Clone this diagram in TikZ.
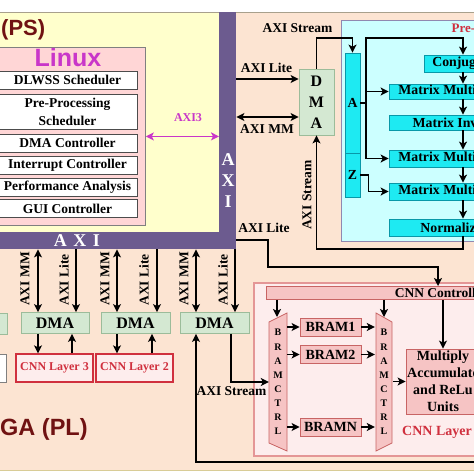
\documentclass[tikz,border=0pt]{standalone}
\usepackage{fontspec}
\setmainfont{Liberation Serif}
\setsansfont{Liberation Sans}
\usetikzlibrary{arrows.meta,calc}
\newcommand\myfs[2]{\fontsize{#1}{#2}\selectfont}
\definecolor{peach}{HTML}{FCE4D2}
\definecolor{psyellow}{HTML}{FFFFCC}
\definecolor{axipurple}{HTML}{6C5B8F}
\definecolor{linuxpink}{HTML}{FFD6D6}
\definecolor{ppcyan}{HTML}{CCFFFF}
\definecolor{ppborder}{HTML}{9088B0}
\definecolor{boxcyan}{HTML}{1EEAF2}
\definecolor{cyanborder}{HTML}{0898A8}
\definecolor{dmagreen}{HTML}{D4E8D2}
\definecolor{greenborder}{HTML}{9CBC9A}
\definecolor{cnnbg}{HTML}{FDEDED}
\definecolor{cnnframe}{HTML}{E49696}
\definecolor{cnnbox}{HTML}{F6C4C4}
\definecolor{cnnborder}{HTML}{C86464}
\definecolor{mag}{HTML}{C936C9}
\definecolor{darkred}{HTML}{701212}
\definecolor{cnnred}{HTML}{D0303E}
\definecolor{topline}{HTML}{A8A08C}
\definecolor{botline}{HTML}{D8CC96}
\begin{document}
\begin{tikzpicture}[x=1pt,y=-1pt,
  lbl/.style={font=\myfs{13.5}{16}\bfseries, inner sep=0},
  wbox/.style={draw=black!70, fill=white, line width=0.8pt, minimum width=139pt, minimum height=18pt, inner sep=0, font=\myfs{13.5}{18}\bfseries, align=center},
  cbox/.style={draw=cyanborder, fill=boxcyan, line width=0.7pt, inner sep=0, font=\myfs{13.8}{16}\bfseries},
  gbox/.style={draw=greenborder, fill=dmagreen, line width=0.8pt, inner sep=0},
  pbox/.style={draw=cnnborder, fill=cnnbox, line width=0.8pt, inner sep=0},
  lbox/.style={draw=cnnred, fill=cnnbg, line width=1.3pt, inner sep=0, text=cnnred, font=\myfs{12}{14}\bfseries},
  bctxt/.style={inner sep=0, minimum width=18pt, minimum height=138pt, font=\myfs{10}{14.1}\bfseries, align=center},
  ln/.style={line width=1.4pt},
  arr/.style={line width=1.4pt, -{Stealth[length=8pt,width=8pt,inset=2pt]}},
  darr/.style={line width=1.4pt, {Stealth[length=8pt,width=8pt,inset=2pt]}-{Stealth[length=8pt,width=8pt,inset=2pt]}},
  magarr/.style={line width=1.4pt, draw=mag, {Stealth[length=8pt,width=8pt,inset=2pt]}-{Stealth[length=8pt,width=8pt,inset=2pt]}}
]
\useasboundingbox (0,0) rectangle (474,474);
\fill[white] (0,0) rectangle (474,474);
% backgrounds
\draw[fill=peach, draw=botline, line width=1pt] (-3,12) rectangle (477,470);
\draw[topline, line width=0.8pt] (-3,12) -- (477,12);
\node[draw=topline, fill=psyellow, line width=0.8pt, anchor=north west, minimum width=221pt, minimum height=220pt, inner sep=0] (ps) at (-2,12) {};
\node[fill=axipurple, anchor=north west, minimum width=17pt, minimum height=237pt, inner sep=0] (axiv) at (219,12) {};
\node[fill=axipurple, anchor=north west, minimum width=238pt, minimum height=17pt, inner sep=0] (axih) at (-2,232) {};
\node[text=white, font=\myfs{18}{21}\bfseries, align=center, inner sep=0] (axivt) at (228,181) {A\\X\\I};
\node[text=white, font=\myfs{18}{20}\bfseries, inner sep=0] (axiht) at (77,241) {A\hspace{2pt} X\hspace{2pt} I};
\node[anchor=west, font=\sffamily\bfseries\myfs{22}{24}, text=darkred, inner sep=0] (pst) at (1,30) {(PS)};
% Linux
\node[draw=gray, fill=linuxpink, line width=0.8pt, anchor=north west, minimum width=147pt, minimum height=178pt, inner sep=0] (linux) at (-2,47) {};
\node[font=\sffamily\bfseries\myfs{25}{27}, text=mag, inner sep=0] (linuxt) at (68,58) {Linux};
\node[wbox] (dlwss) at (67.5,80) {DLWSS Scheduler};
\node[wbox, minimum height=35pt] (prep) at (67.5,111.5) {Pre-Processing\\Scheduler};
\node[wbox] (dmac) at (67.5,143) {DMA Controller};
\node[wbox] (intc) at (67.5,165) {Interrupt Controller};
\node[wbox] (perf) at (67.5,187) {Performance Analysis};
\node[wbox] (gui) at (67.5,208.5) {GUI Controller};
\draw[magarr] (linux.east) -- (axiv.west |- linux.east);
\node[font=\myfs{12}{14}\bfseries, text=mag, inner sep=0] (axi3) at (188,118) {AXI3};
% Pre-processing
\node[draw=ppborder, fill=ppcyan, line width=0.9pt, anchor=north west, minimum width=140pt, minimum height=221pt, inner sep=0] (pp) at (341,20) {};
\node[anchor=west, font=\myfs{13}{15}\bfseries, text=cnnred, inner sep=0] (ppt) at (451.5,29) {Pre-Processing};
\node[lbl] (lstream) at (297.5,28) {AXI Stream};
\node[gbox, minimum width=35pt, minimum height=66pt, font=\myfs{16}{21}\bfseries, align=center] (dmaT) at (316.5,102) {D\\M\\A};
\coordinate (yLite) at (0,79);
\coordinate (yMM) at (0,117);
\draw[arr] (axiv.east |- yLite) -- (dmaT.west |- yLite);
\draw[darr] (axiv.east |- yMM) -- (dmaT.west |- yMM);
\node[lbl] (llite1) at (266.5,68) {AXI Lite};
\node[lbl] (lmm1) at (267,129) {AXI MM};
\node[cbox, minimum width=15pt, minimum height=100pt] (blockA) at (352.5,103) {A};
\node[cbox, minimum width=15pt, minimum height=44pt] (blockZ) at (352.5,175) {Z};
\node[cbox, minimum width=78pt, minimum height=17pt] (conj) at (463,63.5) {Conjugate};
\node[cbox, minimum width=148pt, minimum height=15pt] (mm1) at (463,91.5) {Matrix Multiplication};
\node[cbox, minimum width=148pt, minimum height=15pt] (minv) at (463,122.5) {Matrix Inversion};
\node[cbox, minimum width=148pt, minimum height=17pt] (mm3) at (463,158.5) {Matrix Multiplication};
\node[cbox, minimum width=148pt, minimum height=17pt] (mm4) at (463,191.5) {Matrix Multiplication};
\node[cbox, minimum width=148pt, minimum height=17pt] (norm) at (463,227.5) {Normalization};
\coordinate (yS) at (0,38);
\draw[arr] (dmaT.north) -- (dmaT.north |- yS) -- (blockA.north |- yS) -- (blockA.north);
\coordinate (jx) at (366,0);
\draw[ln] (blockA.east) -- (blockA.east -| jx);
\draw[arr] (jx |- mm3.west) -- (jx |- yS) -- (conj.north |- yS) -- (conj.north);
\draw[arr] (jx |- mm1.west) -- (mm1.west);
\draw[arr] (jx |- mm3.west) -- (mm3.west);
\draw[arr] (blockZ.east) -- ++(8,0) |- (mm4.west);
\draw[arr] (conj.south) -- (mm1.north);
\draw[arr] (mm1.south) -- (minv.north);
\draw[arr] (minv.south) -- (mm3.north);
\draw[arr] (mm3.south) -- (mm4.north);
\draw[arr] (mm4.south) -- (norm.north);
\coordinate (yB) at (0,249);
\draw[arr] (norm.south) -- (norm.south |- yB) -- (dmaT.south |- yB) -- (dmaT.south);
\node[lbl, rotate=90] (lstream2) at (307,195) {AXI Stream};
% CNN layer region
\node[draw=cnnframe, fill=cnnbg, line width=1.6pt, anchor=north west, minimum width=230pt, minimum height=173pt, inner sep=0] (cnn) at (253,282) {};
\node[pbox, anchor=north west, minimum width=350pt, minimum height=13pt, font=\myfs{13.5}{15}\bfseries] (ctrl) at (266,286) {CNN Controller};
\coordinate (yL2) at (0,240);
\coordinate (xL2) at (268,0);
\coordinate (yL3) at (0,267);
\coordinate (xc) at (438,0);
\draw[arr] (axiv.east |- yL2) -- (xL2 |- yL2) -- (xL2 |- yL3) -- (xc |- yL3) -- (xc |- ctrl.north);
\node[lbl] (llite2) at (264,228) {AXI Lite};
\draw[pbox] (269,322) -- (287,313) -- (287,451) -- (269,443) -- cycle;
\draw[pbox] (376,313) -- (392,322) -- (392,443) -- (376,451) -- cycle;
\node[bctxt] (bcL) at (278,382) {B\\R\\A\\M\\C\\T\\R\\L};
\node[bctxt] (bcR) at (384,382) {B\\R\\A\\M\\C\\T\\R\\L};
\node[pbox, minimum width=61pt, minimum height=18pt, font=\myfs{14}{16}\bfseries] (bram1) at (330.5,327) {BRAM1};
\node[pbox, minimum width=61pt, minimum height=18pt, font=\myfs{14}{16}\bfseries] (bram2) at (330.5,354.5) {BRAM2};
\node[pbox, minimum width=61pt, minimum height=18pt, font=\myfs{14}{16}\bfseries] (bramn) at (330.5,427) {BRAMN};
\node[pbox, minimum width=74pt, minimum height=65pt, font=\myfs{14}{17}\bfseries, align=center] (mult) at (443,381.5) {Multiply\\Accumulate\\and ReLu\\Units};
\foreach \b in {bram1,bram2,bramn}{
  \draw[arr] (bcL.east |- \b) -- (\b.west);
  \draw[arr] (\b.east) -- (bcR.west |- \b);
}
\draw[arr] (bcR.east |- mult.west) -- (mult.west);
\coordinate (bcLtop) at (277,317);
\coordinate (bcRtop) at (384,317);
\draw[arr] (ctrl.south -| bcLtop) -- (bcLtop);
\draw[arr] (ctrl.south -| bcRtop) -- (bcRtop);
\draw[arr] (ctrl.south -| mult.north) -- (mult.north);
\node[anchor=west, font=\myfs{14}{16}\bfseries, text=cnnred, inner sep=0] (cnnl1) at (402,432) {CNN Layer 1};
% bottom DMAs
\node[gbox, anchor=north east, minimum width=20pt, minimum height=21pt] (dma0) at (8,312.5) {};
\node[gbox, minimum width=68pt, minimum height=21pt, font=\myfs{16}{18}\bfseries] (dma1) at (55,323) {DMA};
\node[gbox, minimum width=69pt, minimum height=21pt, font=\myfs{16}{18}\bfseries] (dma2) at (135.5,323) {DMA};
\node[gbox, minimum width=69pt, minimum height=21pt, font=\myfs{16}{18}\bfseries] (dma3) at (214.5,323) {DMA};
\node[draw=gray, fill=white, line width=1pt, anchor=north east, minimum width=20pt, minimum height=28pt, inner sep=0] (cnn4) at (7,354) {};
\node[lbox, minimum width=77pt, minimum height=28pt] (cnn3) at (54.5,368) {CNN Layer 3};
\node[lbox, minimum width=77pt, minimum height=28pt] (cnn2) at (134.5,368) {CNN Layer 2};
\coordinate (x1m) at (38,0);
\coordinate (x1l) at (76,0);
\coordinate (x1u) at (72,0);
\coordinate (x2m) at (117,0);
\coordinate (x2l) at (157,0);
\coordinate (x2u) at (152,0);
\coordinate (x3m) at (196,0);
\coordinate (x3l) at (235,0);
\coordinate (x3s) at (231,0);
\draw[darr] (axih.south -| x1m) -- (dma1.north -| x1m);
\draw[arr] (axih.south -| x1l) -- (dma1.north -| x1l);
\draw[arr] (dma1.south -| x1m) -- (cnn3.north -| x1m);
\draw[arr] (cnn3.north -| x1u) -- (dma1.south -| x1u);
\draw[darr] (axih.south -| x2m) -- (dma2.north -| x2m);
\draw[arr] (axih.south -| x2l) -- (dma2.north -| x2l);
\draw[arr] (dma2.south -| x2m) -- (cnn2.north -| x2m);
\draw[arr] (cnn2.north -| x2u) -- (dma2.south -| x2u);
\draw[darr] (axih.south -| x3m) -- (dma3.north -| x3m);
\draw[arr] (axih.south -| x3l) -- (dma3.north -| x3l);
\node[lbl, rotate=90] (lmmb1) at (25,279) {AXI MM};
\node[lbl, rotate=90] (lltb1) at (64,280) {AXI Lite};
\node[lbl, rotate=90] (lmmb2) at (105,279) {AXI MM};
\node[lbl, rotate=90] (lltb2) at (144,280) {AXI Lite};
\node[lbl, rotate=90] (lmmb3) at (184,279) {AXI MM};
\node[lbl, rotate=90] (lltb3) at (223,280) {AXI Lite};
\draw[arr] (dma3.south -| x3s) |- (bcL.west);
\node[lbl] (lstream3) at (231.5,391) {AXI Stream};
\coordinate (outR) at (480,462);
\draw[arr] (outR) -| (dma3.south -| x3m);
\node[anchor=west, font=\sffamily\bfseries\myfs{23.5}{26}, text=darkred, inner sep=0] (plt) at (0,429) {GA (PL)};
\end{tikzpicture}
\end{document}
